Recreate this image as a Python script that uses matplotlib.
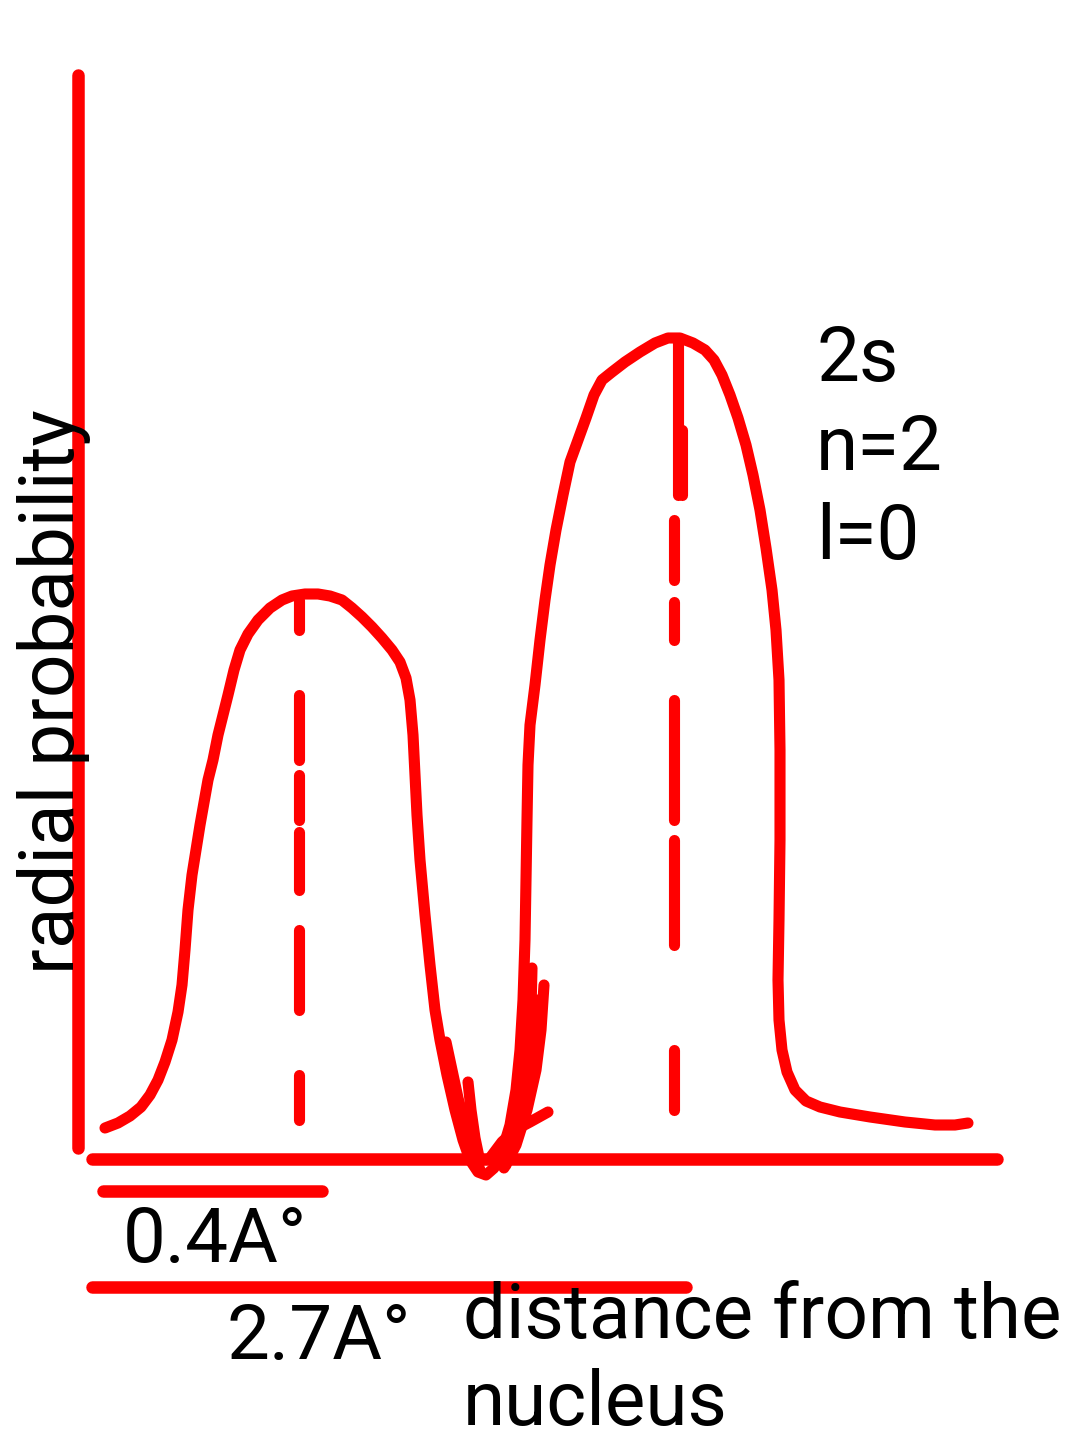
import numpy as np
import matplotlib.pyplot as plt

# hand sketch of the 2s radial probability curve, traced points (x, y in picture units, y down)
curve_x = [105, 118, 130, 141, 150, 158, 165, 172, 178, 182, 185, 188, 192, 200, 208, 213, 218, 228,
           234, 240, 248, 258, 270, 282, 292, 305, 318, 330, 342, 352, 362, 372, 382, 392, 400, 406,
           410, 413, 415, 417, 420, 425, 430, 435, 440, 447, 455, 463, 470, 478, 486, 494, 502, 510,
           516, 520, 523, 525, 526, 527, 528, 530, 535, 540, 545, 550, 556, 563, 570, 578, 586, 594,
           602, 612, 625, 640, 655, 668, 680, 693, 705, 714, 722, 730, 738, 746, 753, 760, 766, 772,
           776, 779, 780, 780, 779, 778, 779, 782, 787, 795, 806, 820, 840, 870, 905, 935, 955, 968]
curve_y = [1128, 1123, 1116, 1107, 1095, 1080, 1062, 1040, 1012, 985, 950, 910, 875, 825, 780, 760, 735, 695,
           670, 650, 634, 620, 608, 600, 596, 594, 594, 596, 600, 608, 617, 627, 638, 650, 662, 678,
           700, 735, 775, 815, 860, 915, 965, 1010, 1040, 1075, 1110, 1140, 1160, 1172, 1175, 1168, 1152, 1125,
           1090, 1050, 1000, 940, 880, 820, 765, 725, 685, 640, 600, 565, 530, 495, 462, 440, 418, 395,
           380, 372, 362, 352, 343, 338, 338, 343, 350, 360, 375, 395, 418, 445, 475, 510, 548, 590,
           630, 680, 750, 840, 920, 980, 1020, 1050, 1072, 1090, 1101, 1107, 1112, 1117, 1122, 1125, 1125, 1123]

# extra scribble strokes near the node
scribbles = [
    ([446, 452, 458, 466, 474, 480], [1042, 1070, 1098, 1128, 1155, 1170]),
    ([468, 471, 475, 480], [1082, 1110, 1138, 1162]),
    ([532, 531, 528, 522, 514, 506], [968, 1010, 1050, 1095, 1135, 1165]),
    ([544, 541, 536, 527, 516, 504], [985, 1030, 1070, 1110, 1145, 1168]),
    ([537, 534, 528, 520], [1000, 1045, 1090, 1130]),
    ([490, 502, 515, 530, 548], [1158, 1142, 1130, 1122, 1112]),
]

# dashed guide lines
left_dash_x = 299
left_dashes = [(600, 630), (695, 760), (775, 820), (832, 890), (930, 1010), (1075, 1120)]
right_dash_x = 674
right_dashes = [(520, 580), (602, 640), (700, 820), (840, 945), (1050, 1110)]

# axes and scale bars (x0, x1, y0, y1)
bars = [(78, 78, 75, 1148), (92, 997, 1159, 1159), (103, 322, 1191, 1191), (92, 686, 1287, 1287)]

labels_orbital = ["2s", "n=2", "l=0"]

red = "#ff0000"
plt.rcParams['font.family'] = ['Roboto', 'DejaVu Sans']

fig = plt.figure(figsize=(10.8, 14.4), dpi=100)
ax = fig.add_axes([0, 0, 1, 1])
ax.set_xlim(0, 1080)
ax.set_ylim(1440, 0)
ax.axis('off')

for x0, x1, y0, y1 in bars:
    ax.plot([x0, x1], [y0, y1], color=red, lw=9, solid_capstyle='round')

ax.plot(curve_x, curve_y, color=red, lw=8, solid_capstyle='round', solid_joinstyle='round')
for sx, sy in scribbles:
    ax.plot(sx, sy, color=red, lw=8, solid_capstyle='round', solid_joinstyle='round')

for y0, y1 in left_dashes:
    ax.plot([left_dash_x, left_dash_x], [y0, y1], color=red, lw=8, solid_capstyle='round')
for y0, y1 in right_dashes:
    ax.plot([right_dash_x, right_dash_x], [y0, y1], color=red, lw=8, solid_capstyle='round')
# solid part of the right guide under the peak
ax.plot([678, 678], [340, 495], color=red, lw=8, solid_capstyle='round')
ax.plot([682, 682], [430, 495], color=red, lw=8, solid_capstyle='round')

ax.text(54, 692, "radial probability", rotation=90, ha='center', va='center', fontsize=55, color='black')

for i, s in enumerate(labels_orbital):
    ax.text(816, 381 + i * 89, s, ha='left', va='baseline', fontsize=55, color='black')

ax.text(123, 1262, "0.4A°", ha='left', va='baseline', fontsize=55, color='black')
ax.text(226, 1359, "2.7A°", ha='left', va='baseline', fontsize=55, color='black')
ax.text(463, 1338, "distance from the", ha='left', va='baseline', fontsize=55, color='black')
ax.text(463, 1425, "nucleus", ha='left', va='baseline', fontsize=55, color='black')

fig.savefig("out.png", dpi=100, facecolor='white')
